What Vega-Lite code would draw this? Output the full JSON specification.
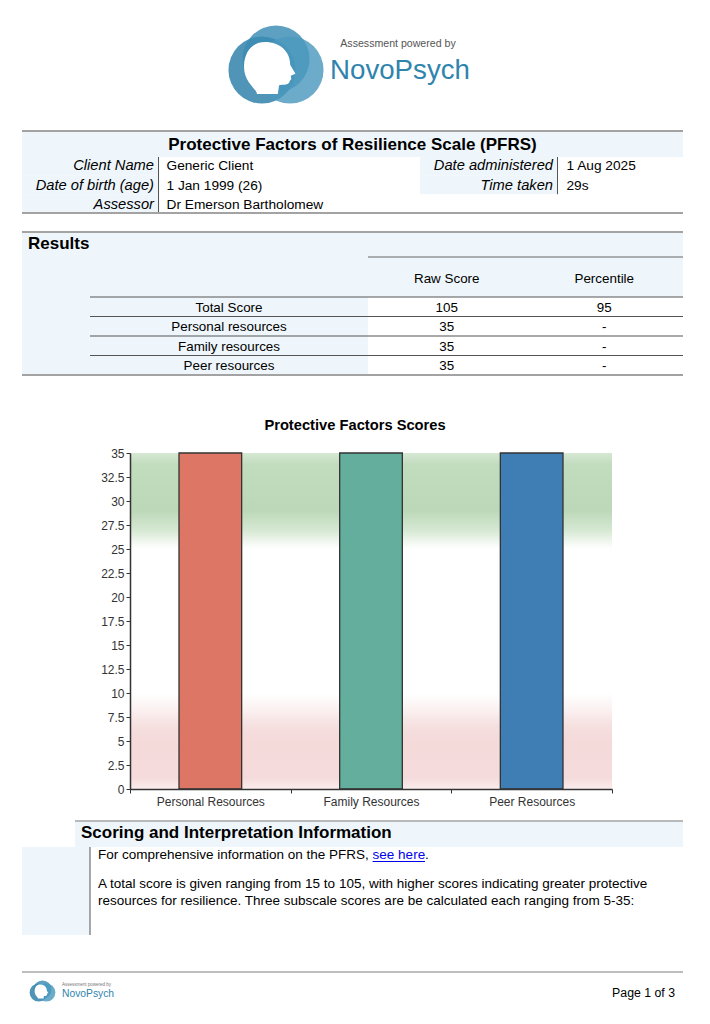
{
  "$schema": "https://vega.github.io/schema/vega-lite/v6.json",
  "padding": 0,
  "spacing": 0,
  "bounds": "flush",
  "center": true,
  "background": "#ffffff",
  "config": {
    "font": "Liberation Sans",
    "view": {"stroke": null},
    "axis": {"grid": false},
    "text": {"color": "#000000"}
  },
  "datasets": {
    "info": [
      {"side": "left", "row": 1, "label": "Client Name", "value": "Generic Client"},
      {"side": "left", "row": 2, "label": "Date of birth (age)", "value": "1 Jan 1999 (26)"},
      {"side": "left", "row": 3, "label": "Assessor", "value": "Dr Emerson Bartholomew"},
      {"side": "right", "row": 1, "label": "Date administered", "value": "1 Aug 2025"},
      {"side": "right", "row": 2, "label": "Time taken", "value": "29s"}
    ],
    "results": [
      {"scale": "Total Score", "raw": "105", "percentile": "95"},
      {"scale": "Personal resources", "raw": "35", "percentile": "-"},
      {"scale": "Family resources", "raw": "35", "percentile": "-"},
      {"scale": "Peer resources", "raw": "35", "percentile": "-"}
    ],
    "scores": [
      {"category": "Personal Resources", "score": 35},
      {"category": "Family Resources", "score": 35},
      {"category": "Peer Resources", "score": 35}
    ],
    "zones": [
      {"zone": "high", "from": 25, "to": 35},
      {"zone": "low", "from": 0, "to": 10}
    ]
  },
  "vconcat": [
    {
      "width": 710,
      "height": 125,
      "resolve": {"scale": {"x": "independent", "y": "independent", "color": "independent"}},
      "layer": [
        {
          "data": {"values": [{"circle": "left", "tier": "lower"}, {"circle": "top", "tier": "upper"}, {"circle": "right", "tier": "lower"}]},
          "mark": {"type": "point", "filled": true, "shape": "circle", "size": 4500, "opacity": 0.82},
          "encoding": {
            "x": {"field": "circle", "type": "nominal", "scale": {"type": "point", "domain": ["left", "top", "right"], "range": [262, 290], "padding": 0}, "axis": null},
            "y": {"field": "tier", "type": "nominal", "scale": {"type": "point", "domain": ["upper", "lower"], "range": [59, 70], "padding": 0}, "axis": null},
            "color": {"field": "circle", "type": "nominal", "scale": {"domain": ["left", "top", "right"], "range": ["#2a7ea8", "#3b8bb3", "#4c98be"]}, "legend": null}
          }
        },
        {
          "data": {"values": [{"part": "head"}]},
          "mark": {"type": "point", "filled": true, "shape": "M -0.2 -1 C 0.4 -1 0.78 -0.62 0.78 -0.12 L 0.98 0.22 L 0.8 0.3 L 0.82 0.42 L 0.76 0.5 C 0.74 0.62 0.62 0.66 0.45 0.64 L 0.35 0.66 L 0.3 1 L -0.5 1 C -0.55 0.75 -1 0.55 -1 -0.05 C -1 -0.62 -0.68 -1 -0.2 -1 Z", "size": 2700, "color": "#ffffff", "opacity": 1},
          "encoding": {
            "x": {"field": "part", "type": "nominal", "scale": {"type": "point", "range": [270, 270], "padding": 0}, "axis": null},
            "y": {"field": "part", "type": "nominal", "scale": {"type": "point", "range": [68, 68], "padding": 0}, "axis": null}
          }
        },
        {
          "data": {"values": [{"text": "Assessment powered by"}]},
          "mark": {"type": "text", "fontSize": 10.6, "color": "#555555", "align": "center", "baseline": "middle"},
          "encoding": {
            "text": {"field": "text"},
            "x": {"field": "text", "type": "nominal", "scale": {"type": "point", "range": [398, 398], "padding": 0}, "axis": null},
            "y": {"field": "text", "type": "nominal", "scale": {"type": "point", "range": [44, 44], "padding": 0}, "axis": null}
          }
        },
        {
          "data": {"values": [{"text": "NovoPsych"}]},
          "mark": {"type": "text", "fontSize": 27.7, "color": "#2f84ae", "align": "center", "baseline": "middle"},
          "encoding": {
            "text": {"field": "text"},
            "x": {"field": "text", "type": "nominal", "scale": {"type": "point", "range": [400, 400], "padding": 0}, "axis": null},
            "y": {"field": "text", "type": "nominal", "scale": {"type": "point", "range": [71, 71], "padding": 0}, "axis": null}
          }
        }
      ]
    },
    {
      "width": 710,
      "height": 97,
      "resolve": {"scale": {"x": "independent", "y": "independent"}},
      "layer": [
        {
          "data": {"values": [{"part": "title band"}]},
          "mark": {"type": "rect", "fill": "#eef6fb"},
          "encoding": {
            "x": {"field": "part", "type": "nominal", "scale": {"type": "band", "range": [22, 683], "padding": 0}, "axis": null},
            "y": {"field": "part", "type": "nominal", "scale": {"type": "band", "range": [6, 32], "padding": 0}, "axis": null}
          }
        },
        {
          "data": {"name": "info"},
          "mark": {"type": "rect", "fill": "#eef6fb"},
          "encoding": {
            "x": {"field": "side", "type": "nominal", "scale": {"type": "band", "domain": ["left", "right"], "range": [22, 557.5], "paddingInner": 0.655, "paddingOuter": 0}, "axis": null},
            "y": {"field": "row", "type": "ordinal", "scale": {"type": "band", "domain": [1, 2, 3], "range": [32, 88], "padding": 0}, "axis": null}
          }
        },
        {
          "data": {"values": [{"part": "top border"}]},
          "mark": {"type": "rect", "fill": "#a3a3a3"},
          "encoding": {
            "x": {"field": "part", "type": "nominal", "scale": {"type": "band", "range": [22, 683], "padding": 0}, "axis": null},
            "y": {"field": "part", "type": "nominal", "scale": {"type": "band", "range": [5, 7], "padding": 0}, "axis": null}
          }
        },
        {
          "data": {"values": [{"part": "bottom border"}]},
          "mark": {"type": "rect", "fill": "#a3a3a3"},
          "encoding": {
            "x": {"field": "part", "type": "nominal", "scale": {"type": "band", "range": [22, 683], "padding": 0}, "axis": null},
            "y": {"field": "part", "type": "nominal", "scale": {"type": "band", "range": [87, 89], "padding": 0}, "axis": null}
          }
        },
        {
          "data": {"values": [{"part": "client divider"}]},
          "mark": {"type": "rect", "fill": "#555555"},
          "encoding": {
            "x": {"field": "part", "type": "nominal", "scale": {"type": "band", "range": [158, 159], "padding": 0}, "axis": null},
            "y": {"field": "part", "type": "nominal", "scale": {"type": "band", "range": [32, 87], "padding": 0}, "axis": null}
          }
        },
        {
          "data": {"values": [{"part": "session divider"}]},
          "mark": {"type": "rect", "fill": "#555555"},
          "encoding": {
            "x": {"field": "part", "type": "nominal", "scale": {"type": "band", "range": [557, 558], "padding": 0}, "axis": null},
            "y": {"field": "part", "type": "nominal", "scale": {"type": "band", "range": [32, 69.3], "padding": 0}, "axis": null}
          }
        },
        {
          "data": {"values": [{"title": "Protective Factors of Resilience Scale  (PFRS)"}]},
          "mark": {"type": "text", "fontSize": 17, "fontWeight": "bold", "align": "center", "baseline": "middle"},
          "encoding": {
            "text": {"field": "title"},
            "x": {"field": "title", "type": "nominal", "scale": {"type": "point", "range": [352.5, 352.5], "padding": 0}, "axis": null},
            "y": {"field": "title", "type": "nominal", "scale": {"type": "point", "range": [19.5, 19.5], "padding": 0}, "axis": null}
          }
        },
        {
          "data": {"name": "info"},
          "mark": {"type": "text", "fontSize": 14.7, "fontStyle": "italic", "align": "right", "baseline": "middle"},
          "encoding": {
            "text": {"field": "label"},
            "x": {"field": "side", "type": "nominal", "scale": {"type": "point", "domain": ["left", "right"], "range": [154, 553], "padding": 0}, "axis": null},
            "y": {"field": "row", "type": "ordinal", "scale": {"type": "point", "domain": [1, 2, 3], "range": [41.3, 79.7], "padding": 0}, "axis": null}
          }
        },
        {
          "data": {"name": "info"},
          "mark": {"type": "text", "fontSize": 13.7, "align": "left", "baseline": "middle"},
          "encoding": {
            "text": {"field": "value"},
            "x": {"field": "side", "type": "nominal", "scale": {"type": "point", "domain": ["left", "right"], "range": [166.5, 566.5], "padding": 0}, "axis": null},
            "y": {"field": "row", "type": "ordinal", "scale": {"type": "point", "domain": [1, 2, 3], "range": [41.3, 79.7], "padding": 0}, "axis": null}
          }
        }
      ]
    },
    {
      "width": 710,
      "height": 231,
      "resolve": {"scale": {"x": "independent", "y": "independent"}},
      "layer": [
        {
          "data": {"values": [{"part": "results panel"}]},
          "mark": {"type": "rect", "fill": "#eef6fb"},
          "encoding": {
            "x": {"field": "part", "type": "nominal", "scale": {"type": "band", "range": [22, 683], "padding": 0}, "axis": null},
            "y": {"field": "part", "type": "nominal", "scale": {"type": "band", "range": [10, 153], "padding": 0}, "axis": null}
          }
        },
        {
          "data": {"values": [{"part": "score cells"}]},
          "mark": {"type": "rect", "fill": "#ffffff"},
          "encoding": {
            "x": {"field": "part", "type": "nominal", "scale": {"type": "band", "range": [368, 683], "padding": 0}, "axis": null},
            "y": {"field": "part", "type": "nominal", "scale": {"type": "band", "range": [75, 153], "padding": 0}, "axis": null}
          }
        },
        {
          "data": {"values": [{"part": "results top border"}]},
          "mark": {"type": "rect", "fill": "#a3a3a3"},
          "encoding": {
            "x": {"field": "part", "type": "nominal", "scale": {"type": "band", "range": [22, 683], "padding": 0}, "axis": null},
            "y": {"field": "part", "type": "nominal", "scale": {"type": "band", "range": [9, 11], "padding": 0}, "axis": null}
          }
        },
        {
          "data": {"values": [{"part": "results bottom border"}]},
          "mark": {"type": "rect", "fill": "#a3a3a3"},
          "encoding": {
            "x": {"field": "part", "type": "nominal", "scale": {"type": "band", "range": [22, 683], "padding": 0}, "axis": null},
            "y": {"field": "part", "type": "nominal", "scale": {"type": "band", "range": [152, 154], "padding": 0}, "axis": null}
          }
        },
        {
          "data": {"values": [{"part": "column header rule"}]},
          "mark": {"type": "rect", "fill": "#666666"},
          "encoding": {
            "x": {"field": "part", "type": "nominal", "scale": {"type": "band", "range": [368, 683], "padding": 0}, "axis": null},
            "y": {"field": "part", "type": "nominal", "scale": {"type": "band", "range": [34.5, 35.5], "padding": 0}, "axis": null}
          }
        },
        {
          "data": {"values": [{"part": "row rule 1"}]},
          "mark": {"type": "rect", "fill": "#555555"},
          "encoding": {
            "x": {"field": "part", "type": "nominal", "scale": {"type": "band", "range": [90, 683], "padding": 0}, "axis": null},
            "y": {"field": "part", "type": "nominal", "scale": {"type": "band", "range": [74.5, 75.5], "padding": 0}, "axis": null}
          }
        },
        {
          "data": {"values": [{"part": "row rule 2"}]},
          "mark": {"type": "rect", "fill": "#555555"},
          "encoding": {
            "x": {"field": "part", "type": "nominal", "scale": {"type": "band", "range": [90, 683], "padding": 0}, "axis": null},
            "y": {"field": "part", "type": "nominal", "scale": {"type": "band", "range": [94, 95], "padding": 0}, "axis": null}
          }
        },
        {
          "data": {"values": [{"part": "row rule 3"}]},
          "mark": {"type": "rect", "fill": "#555555"},
          "encoding": {
            "x": {"field": "part", "type": "nominal", "scale": {"type": "band", "range": [90, 683], "padding": 0}, "axis": null},
            "y": {"field": "part", "type": "nominal", "scale": {"type": "band", "range": [113.5, 114.5], "padding": 0}, "axis": null}
          }
        },
        {
          "data": {"values": [{"part": "row rule 4"}]},
          "mark": {"type": "rect", "fill": "#555555"},
          "encoding": {
            "x": {"field": "part", "type": "nominal", "scale": {"type": "band", "range": [90, 683], "padding": 0}, "axis": null},
            "y": {"field": "part", "type": "nominal", "scale": {"type": "band", "range": [133, 134], "padding": 0}, "axis": null}
          }
        },
        {
          "data": {"values": [{"heading": "Results"}]},
          "mark": {"type": "text", "fontSize": 17, "fontWeight": "bold", "align": "left", "baseline": "middle"},
          "encoding": {
            "text": {"field": "heading"},
            "x": {"field": "heading", "type": "nominal", "scale": {"type": "point", "range": [28, 28], "padding": 0}, "axis": null},
            "y": {"field": "heading", "type": "nominal", "scale": {"type": "point", "range": [21.5, 21.5], "padding": 0}, "axis": null}
          }
        },
        {
          "data": {"values": [{"column": "Raw Score"}, {"column": "Percentile"}]},
          "mark": {"type": "text", "fontSize": 13.4, "align": "center", "baseline": "middle"},
          "encoding": {
            "text": {"field": "column"},
            "x": {"field": "column", "type": "nominal", "scale": {"type": "band", "domain": ["Raw Score", "Percentile"], "range": [368, 683], "padding": 0}, "axis": null},
            "y": {"field": "column", "type": "nominal", "scale": {"type": "point", "range": [56.5, 56.5], "padding": 0}, "axis": null}
          }
        },
        {
          "data": {"name": "results"},
          "mark": {"type": "text", "fontSize": 13.4, "align": "center", "baseline": "middle"},
          "encoding": {
            "text": {"field": "scale"},
            "x": {"field": "scale", "type": "nominal", "scale": {"type": "point", "range": [229, 229], "padding": 0}, "axis": null},
            "y": {"field": "scale", "type": "nominal", "scale": {"type": "band", "domain": ["Total Score", "Personal resources", "Family resources", "Peer resources"], "range": [76, 154], "padding": 0}, "axis": null}
          }
        },
        {
          "data": {"name": "results"},
          "mark": {"type": "text", "fontSize": 13.4, "align": "center", "baseline": "middle"},
          "encoding": {
            "text": {"field": "raw"},
            "x": {"field": "scale", "type": "nominal", "scale": {"type": "point", "range": [446.75, 446.75], "padding": 0}, "axis": null},
            "y": {"field": "scale", "type": "nominal", "scale": {"type": "band", "domain": ["Total Score", "Personal resources", "Family resources", "Peer resources"], "range": [76, 154], "padding": 0}, "axis": null}
          }
        },
        {
          "data": {"name": "results"},
          "mark": {"type": "text", "fontSize": 13.4, "align": "center", "baseline": "middle"},
          "encoding": {
            "text": {"field": "percentile"},
            "x": {"field": "scale", "type": "nominal", "scale": {"type": "point", "range": [604.25, 604.25], "padding": 0}, "axis": null},
            "y": {"field": "scale", "type": "nominal", "scale": {"type": "band", "domain": ["Total Score", "Personal resources", "Family resources", "Peer resources"], "range": [76, 154], "padding": 0}, "axis": null}
          }
        }
      ]
    },
    {
      "width": 450,
      "height": 336,
      "title": {"text": "Protective Factors Scores", "fontSize": 14.7, "fontWeight": "bold", "anchor": "middle", "frame": "group", "offset": 14, "color": "#000000"},
      "resolve": {"scale": {"x": "independent"}},
      "layer": [
        {
          "data": {"name": "zones"},
          "transform": [{"filter": "datum.zone === 'high'"}],
          "mark": {"type": "rect", "fill": {"gradient": "linear", "x1": 0, "y1": 0, "x2": 0, "y2": 1, "stops": [{"offset": 0, "color": "#d6e8d3"}, {"offset": 0.12, "color": "#c2dcbe"}, {"offset": 0.6, "color": "#bcd8b8"}, {"offset": 0.8, "color": "#d5e8d2"}, {"offset": 0.94, "color": "#f4f9f3"}, {"offset": 1, "color": "#ffffff"}]}},
          "encoding": {
            "x": {"field": "zone", "type": "nominal", "scale": {"type": "band", "range": [0, 482], "padding": 0}, "axis": null},
            "y": {"field": "from", "type": "quantitative", "scale": {"domain": [0, 35], "nice": false, "zero": true}},
            "y2": {"field": "to"}
          }
        },
        {
          "data": {"name": "zones"},
          "transform": [{"filter": "datum.zone === 'low'"}],
          "mark": {"type": "rect", "fill": {"gradient": "linear", "x1": 0, "y1": 0, "x2": 0, "y2": 1, "stops": [{"offset": 0, "color": "#ffffff"}, {"offset": 0.15, "color": "#fcf3f3"}, {"offset": 0.35, "color": "#f6dfdf"}, {"offset": 0.5, "color": "#f5dada"}, {"offset": 0.88, "color": "#f5dbdb"}, {"offset": 1, "color": "#fbecec"}]}},
          "encoding": {
            "x": {"field": "zone", "type": "nominal", "scale": {"type": "band", "range": [0, 482], "padding": 0}, "axis": null},
            "y": {"field": "from", "type": "quantitative"},
            "y2": {"field": "to"}
          }
        },
        {
          "data": {"name": "scores"},
          "mark": {"type": "bar", "width": {"band": 0.39}, "stroke": "#333333", "strokeWidth": 1.3},
          "encoding": {
            "x": {"field": "category", "type": "nominal", "sort": null, "scale": {"type": "band", "domain": ["Personal Resources", "Family Resources", "Peer Resources"], "range": [0, 482], "padding": 0}, "axis": {"title": null, "labelFontSize": 12, "labelColor": "#333333", "labelAngle": 0, "tickBand": "extent", "tickSize": 4, "tickColor": "#333333", "domainColor": "#333333", "domainWidth": 1.5, "labelPadding": 3, "zindex": 1}},
            "y": {"field": "score", "type": "quantitative", "axis": {"title": null, "values": [0, 2.5, 5, 7.5, 10, 12.5, 15, 17.5, 20, 22.5, 25, 27.5, 30, 32.5, 35], "tickCount": 20, "labelExpr": "format(datum.value, '~g')", "labelOverlap": false, "domain": true, "ticks": true, "labelFontSize": 12, "labelColor": "#333333", "tickColor": "#333333", "tickSize": 4, "tickWidth": 1, "domainColor": "#333333", "domainWidth": 1.5, "labelPadding": 2, "zindex": 1}},
            "fill": {"field": "category", "type": "nominal", "scale": {"domain": ["Personal Resources", "Family Resources", "Peer Resources"], "range": ["#dd7665", "#63ae9d", "#3f7eb4"]}, "legend": null}
          }
        }
      ]
    },
    {
      "width": 710,
      "height": 235,
      "resolve": {"scale": {"x": "independent", "y": "independent", "color": "independent"}},
      "layer": [
        {
          "data": {"values": [{"part": "section header band"}]},
          "mark": {"type": "rect", "fill": "#eef6fb"},
          "encoding": {
            "x": {"field": "part", "type": "nominal", "scale": {"type": "band", "range": [75, 683], "padding": 0}, "axis": null},
            "y": {"field": "part", "type": "nominal", "scale": {"type": "band", "range": [32, 58], "padding": 0}, "axis": null}
          }
        },
        {
          "data": {"values": [{"part": "section margin"}]},
          "mark": {"type": "rect", "fill": "#eef6fb"},
          "encoding": {
            "x": {"field": "part", "type": "nominal", "scale": {"type": "band", "range": [22, 90], "padding": 0}, "axis": null},
            "y": {"field": "part", "type": "nominal", "scale": {"type": "band", "range": [58, 146], "padding": 0}, "axis": null}
          }
        },
        {
          "data": {"values": [{"part": "section top rule"}]},
          "mark": {"type": "rect", "fill": "#a3a3a3"},
          "encoding": {
            "x": {"field": "part", "type": "nominal", "scale": {"type": "band", "range": [75, 683], "padding": 0}, "axis": null},
            "y": {"field": "part", "type": "nominal", "scale": {"type": "band", "range": [31.2, 32.8], "padding": 0}, "axis": null}
          }
        },
        {
          "data": {"values": [{"part": "box left rule"}]},
          "mark": {"type": "rect", "fill": "#555555"},
          "encoding": {
            "x": {"field": "part", "type": "nominal", "scale": {"type": "band", "range": [89.5, 90.5], "padding": 0}, "axis": null},
            "y": {"field": "part", "type": "nominal", "scale": {"type": "band", "range": [58, 146], "padding": 0}, "axis": null}
          }
        },
        {
          "data": {"values": [{"heading": "Scoring and Interpretation Information"}]},
          "mark": {"type": "text", "fontSize": 17, "fontWeight": "bold", "align": "left", "baseline": "middle"},
          "encoding": {
            "text": {"field": "heading"},
            "x": {"field": "heading", "type": "nominal", "scale": {"type": "point", "range": [81, 81], "padding": 0}, "axis": null},
            "y": {"field": "heading", "type": "nominal", "scale": {"type": "point", "range": [44, 44], "padding": 0}, "axis": null}
          }
        },
        {
          "data": {"values": [
            {"line": 1, "text": "For comprehensive information on the PFRS,"},
            {"line": 2, "text": "A total score is given ranging from 15 to 105, with higher scores indicating greater protective"},
            {"line": 3, "text": "resources for resilience. Three subscale scores are be calculated each ranging from 5-35:"}
          ]},
          "mark": {"type": "text", "fontSize": 13.5, "align": "left", "baseline": "middle"},
          "encoding": {
            "text": {"field": "text"},
            "x": {"field": "line", "type": "ordinal", "scale": {"type": "point", "range": [98, 98], "padding": 0}, "axis": null},
            "y": {"field": "line", "type": "quantitative", "scale": {"domain": [1, 2, 3], "range": [66, 95, 112], "nice": false, "zero": false}, "axis": null}
          }
        },
        {
          "data": {"values": [{"link": "see here"}]},
          "mark": {"type": "text", "fontSize": 13.5, "align": "left", "baseline": "middle", "color": "#0000ee"},
          "encoding": {
            "text": {"field": "link"},
            "x": {"field": "link", "type": "nominal", "scale": {"type": "point", "range": [372.6, 372.6], "padding": 0}, "axis": null},
            "y": {"field": "link", "type": "nominal", "scale": {"type": "point", "range": [66, 66], "padding": 0}, "axis": null}
          }
        },
        {
          "data": {"values": [{"punct": "."}]},
          "mark": {"type": "text", "fontSize": 13.5, "align": "left", "baseline": "middle"},
          "encoding": {
            "text": {"field": "punct"},
            "x": {"field": "punct", "type": "nominal", "scale": {"type": "point", "range": [425, 425], "padding": 0}, "axis": null},
            "y": {"field": "punct", "type": "nominal", "scale": {"type": "point", "range": [66, 66], "padding": 0}, "axis": null}
          }
        },
        {
          "data": {"values": [{"part": "link underline"}]},
          "mark": {"type": "rect", "fill": "#0000ee"},
          "encoding": {
            "x": {"field": "part", "type": "nominal", "scale": {"type": "band", "range": [372.6, 425], "padding": 0}, "axis": null},
            "y": {"field": "part", "type": "nominal", "scale": {"type": "band", "range": [72, 73], "padding": 0}, "axis": null}
          }
        },
        {
          "data": {"values": [{"part": "footer rule"}]},
          "mark": {"type": "rect", "fill": "#a8a8a8"},
          "encoding": {
            "x": {"field": "part", "type": "nominal", "scale": {"type": "band", "range": [22, 683], "padding": 0}, "axis": null},
            "y": {"field": "part", "type": "nominal", "scale": {"type": "band", "range": [182.2, 183.8], "padding": 0}, "axis": null}
          }
        },
        {
          "data": {"values": [{"circle": "left", "tier": "lower"}, {"circle": "top", "tier": "upper"}, {"circle": "right", "tier": "lower"}]},
          "mark": {"type": "point", "filled": true, "shape": "circle", "size": 330, "opacity": 0.82},
          "encoding": {
            "x": {"field": "circle", "type": "nominal", "scale": {"type": "point", "domain": ["left", "top", "right"], "range": [38.7, 46.3], "padding": 0}, "axis": null},
            "y": {"field": "tier", "type": "nominal", "scale": {"type": "point", "domain": ["upper", "lower"], "range": [200.5, 203.5], "padding": 0}, "axis": null},
            "color": {"field": "circle", "type": "nominal", "scale": {"domain": ["left", "top", "right"], "range": ["#2a7ea8", "#3b8bb3", "#4c98be"]}, "legend": null}
          }
        },
        {
          "data": {"values": [{"part": "head"}]},
          "mark": {"type": "point", "filled": true, "shape": "M -0.2 -1 C 0.4 -1 0.78 -0.62 0.78 -0.12 L 0.98 0.22 L 0.8 0.3 L 0.82 0.42 L 0.76 0.5 C 0.74 0.62 0.62 0.66 0.45 0.64 L 0.35 0.66 L 0.3 1 L -0.5 1 C -0.55 0.75 -1 0.55 -1 -0.05 C -1 -0.62 -0.68 -1 -0.2 -1 Z", "size": 190, "color": "#ffffff", "opacity": 1},
          "encoding": {
            "x": {"field": "part", "type": "nominal", "scale": {"type": "point", "range": [41.5, 41.5], "padding": 0}, "axis": null},
            "y": {"field": "part", "type": "nominal", "scale": {"type": "point", "range": [202.5, 202.5], "padding": 0}, "axis": null}
          }
        },
        {
          "data": {"values": [{"text": "Assessment powered by"}]},
          "mark": {"type": "text", "fontSize": 4.5, "color": "#777777", "align": "left", "baseline": "middle"},
          "encoding": {
            "text": {"field": "text"},
            "x": {"field": "text", "type": "nominal", "scale": {"type": "point", "range": [62, 62], "padding": 0}, "axis": null},
            "y": {"field": "text", "type": "nominal", "scale": {"type": "point", "range": [195.5, 195.5], "padding": 0}, "axis": null}
          }
        },
        {
          "data": {"values": [{"text": "NovoPsych"}]},
          "mark": {"type": "text", "fontSize": 10.3, "color": "#2f84ae", "align": "left", "baseline": "middle"},
          "encoding": {
            "text": {"field": "text"},
            "x": {"field": "text", "type": "nominal", "scale": {"type": "point", "range": [62, 62], "padding": 0}, "axis": null},
            "y": {"field": "text", "type": "nominal", "scale": {"type": "point", "range": [205, 205], "padding": 0}, "axis": null}
          }
        },
        {
          "data": {"values": [{"text": "Page 1 of 3"}]},
          "mark": {"type": "text", "fontSize": 12.3, "color": "#000000", "align": "right", "baseline": "middle"},
          "encoding": {
            "text": {"field": "text"},
            "x": {"field": "text", "type": "nominal", "scale": {"type": "point", "range": [675, 675], "padding": 0}, "axis": null},
            "y": {"field": "text", "type": "nominal", "scale": {"type": "point", "range": [204, 204], "padding": 0}, "axis": null}
          }
        }
      ]
    }
  ]
}
